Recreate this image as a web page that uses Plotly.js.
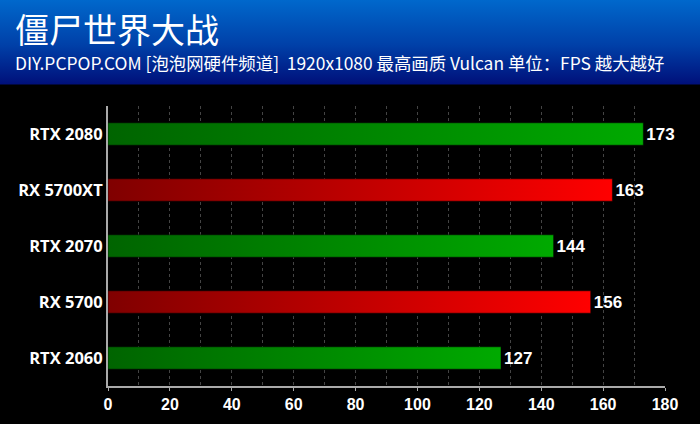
<!DOCTYPE html>
<html><head><meta charset="utf-8">
<script src="https://cdn.plot.ly/plotly-3.0.1.min.js"></script>
<style>
html,body{margin:0;padding:0;background:#000;}
#wrap{width:700px;height:424px;background:linear-gradient(to bottom,#0068cc 0px,#0040a8 45px,#00107a 84px,#000 85px,#000 424px);}
#chart{width:700px;height:424px;}
</style></head>
<body><div id="wrap"><div id="chart"></div></div>
<script>
const categories = ["RTX 2080","RX 5700XT","RTX 2070","RX 5700","RTX 2060"];
const fps = [173,163,144,156,127];
const brand = ["nv","amd","nv","amd","nv"];
const xTicks = [0,20,40,60,80,100,120,140,160,180];
const titleText = "僵尸世界大战";
const subtitleText = "DIY.PCPOP.COM [泡泡网硬件频道]  1920x1080 最高画质 Vulcan 单位：FPS 越大越好";

const baseColor = {nv:"#009000", amd:"#d00000"};
const trace = {
  type:"bar", orientation:"h",
  x: fps, y: categories,
  width: 0.4,
  marker:{color: brand.map(b=>baseColor[b]), line:{width:1,color:"rgba(0,0,0,0.5)"}},
  text: fps.map(String), textposition:"outside", cliponaxis:false,
  textfont:{family:"Liberation Sans Narrow, Arial Narrow, Liberation Sans, sans-serif", size:17, color:"#fff", weight:"bold"},
  hoverinfo:"none"
};
const layout = {
  width:700, height:424,
  paper_bgcolor:"rgba(0,0,0,0)", plot_bgcolor:"#000",
  margin:{l:108,r:35,t:106,b:38},
  showlegend:false,
  title:{text:titleText, x:15/700, xanchor:"left", y:1-31/424, yanchor:"middle",
    font:{family:"Noto Sans CJK SC, sans-serif", size:34, color:"#fff"}},
  annotations:[{text:subtitleText, xref:"paper", yref:"paper", x:-95/557, xanchor:"left",
    y:1+(106-62)/280, yanchor:"middle", showarrow:false,
    font:{family:"Liberation Sans Narrow, Noto Sans CJK SC, sans-serif", size:17.4, color:"#fff"}}],
  xaxis:{range:[0,180], tickvals:xTicks, ticktext:xTicks.map(String),
    showgrid:true, gridcolor:"#444", griddash:"dot", gridwidth:1,
    minor:{dtick:10, tick0:0, showgrid:true, gridcolor:"#444", griddash:"dot", gridwidth:1},
    showline:true, linecolor:"#aaa", linewidth:2, zeroline:false,
    ticks:"outside", ticklen:3, tickcolor:"#aaa",
    tickfont:{family:"Liberation Sans Narrow, Arial Narrow, sans-serif", size:16, color:"#fff", weight:"bold"},
    fixedrange:true},
  yaxis:{autorange:"reversed", showline:true, linecolor:"#aaa", linewidth:2, showgrid:false,
    ticks:"", ticklen:0,
    tickfont:{family:"Open Sans, Noto Sans, sans-serif", size:16.5, color:"#fff", weight:"bold"},
    fixedrange:true}
};
Plotly.newPlot("chart",[trace],layout,{displayModeBar:false,staticPlot:true}).then(function(gd){
  const svg = gd.querySelector("svg.main-svg");
  const ns = "http://www.w3.org/2000/svg";
  let defs = svg.querySelector("defs");
  if(!defs){defs=document.createElementNS(ns,"defs");svg.insertBefore(defs,svg.firstChild);}
  const grads = {nv:["#006400","#00aa00"], amd:["#800000","#ff0000"]};
  Object.keys(grads).forEach(k=>{
    const g=document.createElementNS(ns,"linearGradient");
    g.setAttribute("id","grad-"+k);g.setAttribute("x1","0");g.setAttribute("y1","0");g.setAttribute("x2","1");g.setAttribute("y2","0");
    [[0,grads[k][0]],[1,grads[k][1]]].forEach(s=>{
      const st=document.createElementNS(ns,"stop");st.setAttribute("offset",s[0]);st.setAttribute("stop-color",s[1]);g.appendChild(st);});
    defs.appendChild(g);
  });
  gd.querySelectorAll(".bars .point").forEach((pt,i)=>{
    const p=pt.querySelector("path");
    if(p) p.style.fill="url(#grad-"+brand[i]+")";
  });
});
</script></body></html>
